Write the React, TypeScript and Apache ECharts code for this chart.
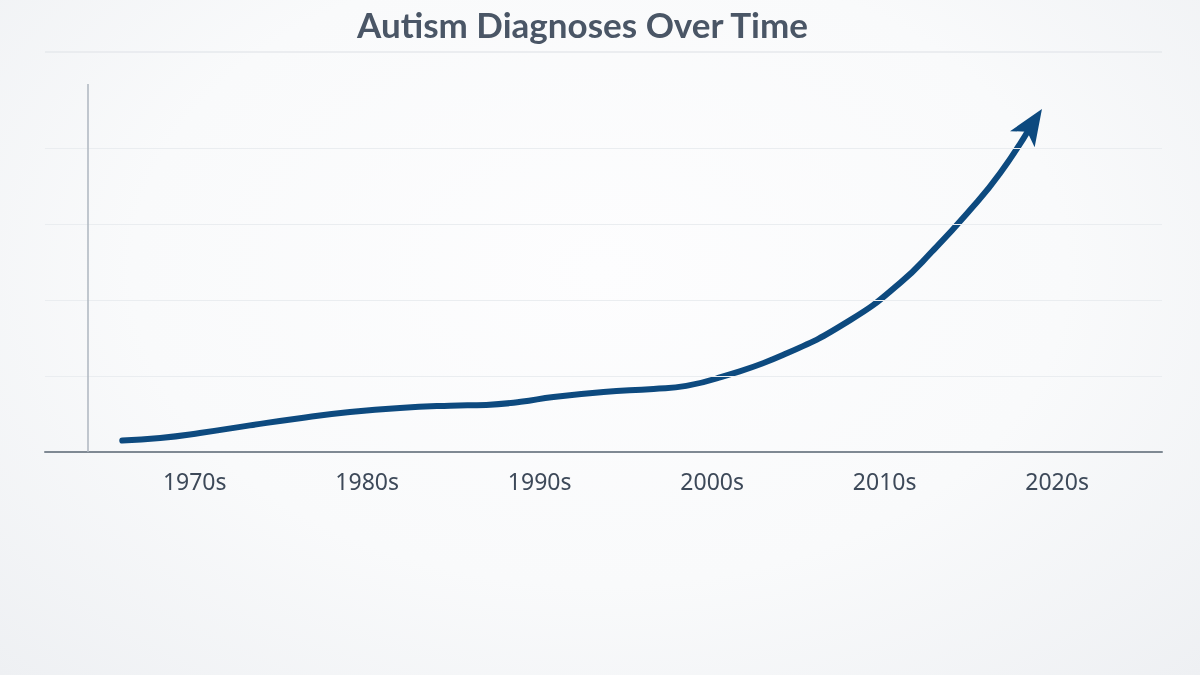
import React, { useEffect, useRef } from "react";
import * as echarts from "echarts";

const titleText = "Autism Diagnoses Over Time";
const decadeTicks = [1970, 1980, 1990, 2000, 2010, 2020];
const curveYears = [1965.8, 1968.0, 1970.3, 1973.2, 1976.1, 1979.0, 1981.9, 1984.8, 1986.9, 1988.9, 1990.8, 1993.7, 1996.6, 1998.5, 2000.5, 2004.1, 2008.0, 2010.9, 2012.8, 2014.8, 2016.7, 2018.56];
const curveValues = [3.0, 3.7, 5.0, 7.0, 8.9, 10.5, 11.6, 12.2, 12.4, 13.2, 14.5, 15.8, 16.6, 17.4, 19.7, 25.5, 34.7, 44.5, 53.0, 62.9, 73.4, 86.4];
const arrowTip = [2019.12, 90.26];
const gridValues = [20, 40, 60, 80];
const xMin = 1961.32;
const xMax = 2026.08;
const yMax = 105.26;
const verticalRuleYear = 1963.81;
const verticalRuleTop = 96.84;

export default function App() {
  const ref = useRef<HTMLDivElement>(null);
  useEffect(() => {
    if (!ref.current) return;
    const chart = echarts.init(ref.current, undefined, { renderer: "svg" });
    const data = curveYears.map((y, i) => [y, curveValues[i]]);
    chart.setOption({
      animation: false,
      backgroundColor: "transparent",
      title: {
        text: titleText,
        left: 357,
        top: 5,
        padding: 0,
        textStyle: {
          fontFamily: "Lato",
          fontWeight: "bold",
          fontSize: 35,
          lineHeight: 38,
          color: "#4a5666",
        },
      },
      grid: { left: 45, right: 38, top: 52, bottom: 223, containLabel: false },
      xAxis: {
        type: "value",
        min: xMin,
        max: xMax,
        axisLine: { show: true, lineStyle: { color: "#7f8993", width: 2 } },
        axisTick: { show: false },
        splitLine: { show: false },
        axisLabel: {
          customValues: decadeTicks,
          formatter: (v: number) => `${Math.round(v)}s`,
          fontFamily: "Noto Sans",
          fontSize: 23,
          color: "#3d4959",
          margin: 17,
        },
      },
      yAxis: {
        type: "value",
        min: 0,
        max: yMax,
        axisLine: { show: false },
        axisTick: { show: false },
        axisLabel: { show: false },
        splitLine: { show: false },
      },
      series: [
        {
          type: "line",
          data,
          smooth: 0.5,
          symbol: "none",
          showSymbol: false,
          clip: false,
          lineStyle: { color: "#0d4a7f", width: 6, cap: "round" },
          itemStyle: { color: "#0d4a7f" },
          markPoint: {
            silent: true,
            label: { show: false },
            itemStyle: { color: "#0d4a7f" },
            data: [
              {
                coord: arrowTip,
                symbol: "arrow",
                symbolSize: [22, 36],
                symbolRotate: -33,
              },
            ],
          },
          markLine: {
            silent: true,
            symbol: "none",
            label: { show: false },
            lineStyle: { color: "#eaedf0", width: 1, type: "solid" },
            data: [
              ...gridValues.map((v) => ({ yAxis: v })),
              { yAxis: yMax, lineStyle: { color: "#e6e9ec", width: 1.5, type: "solid" } },
              [
                { coord: [verticalRuleYear, 0], lineStyle: { color: "#aeb6bf", width: 1.5, type: "solid" } },
                { coord: [verticalRuleYear, verticalRuleTop] },
              ],
            ],
          },
        },
      ],
    });
    return () => chart.dispose();
  }, []);
  return (
    <div
      style={{
        position: "fixed",
        left: 0,
        top: 0,
        width: 1200,
        height: 675,
        background: "radial-gradient(ellipse at 50% 40%, #fdfdfe 0%, #f9fafb 55%, #eef0f3 100%)",
      }}
    >
      <div ref={ref} style={{ width: 1200, height: 675 }} />
    </div>
  );
}
